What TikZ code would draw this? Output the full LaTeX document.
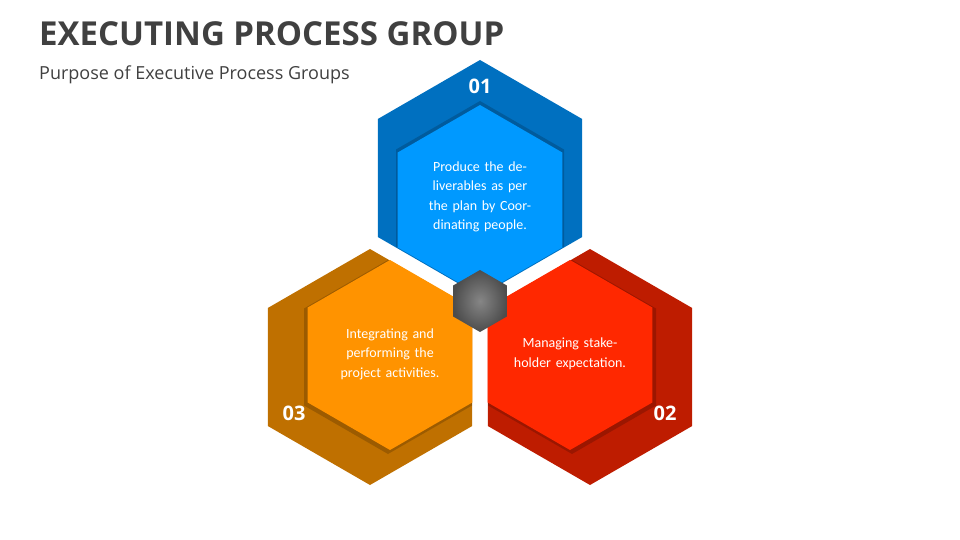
\documentclass[tikz,border=0pt]{standalone}
\usepackage{fontspec}
\setmainfont{Carlito}
\newfontfamily\titlefont{Open Sans}
\usetikzlibrary{shapes.geometric}
\definecolor{bO}{HTML}{0070C0}\definecolor{bI}{HTML}{0099FF}
\definecolor{oO}{HTML}{BF7000}\definecolor{oI}{HTML}{FF9300}
\definecolor{rO}{HTML}{BE1C00}\definecolor{rI}{HTML}{FF2800}
\definecolor{tx}{HTML}{404040}
\tikzset{
 hexo/.style={regular polygon,regular polygon sides=6,shape border rotate=30,inner sep=0,minimum size=236pt,draw=none,fill=#1},
 hexi/.style={regular polygon,regular polygon sides=6,shape border rotate=30,inner sep=0,minimum size=190pt,draw=none,fill=#1},
 hexs/.style={regular polygon,regular polygon sides=6,shape border rotate=30,inner sep=0,minimum size=194pt,draw=none,fill=black,opacity=0.18},
 body/.style={text=white,align=center,font=\fontsize{14}{19.5}\selectfont,text width=130pt},
 num/.style={text=white,font=\titlefont\bfseries\fontsize{20}{24}\selectfont}
}
\begin{document}
\begin{tikzpicture}[x=1pt,y=-1pt]
\useasboundingbox (0,0) rectangle (960,540);
\node[anchor=base west,text=tx,font=\titlefont\bfseries\fontsize{33}{36}\selectfont,inner sep=0] (title) at (39,46) {EXECUTING PROCESS GROUP};
\node[anchor=base west,text=tx,font=\titlefont\fontsize{18}{22}\selectfont,inner sep=0] (sub) at (39,80) {Purpose of Executive Process Groups};
% blue
\node[hexo=bO] (bo) at (480,178) {};
\node[hexs] (bs) at (480,198) {};
\node[hexi=bI] (bi) at (480,200) {};
\node[body] (bt) at (480,197) {Produce the deliverables as per the plan by Coordinating people.};
\node[num] (bn) at (480,86) {01};
% orange
\node[hexo=oO] (oo) at (370,367) {};
\node[hexs] (os) at (388,357) {};
\node[hexi=oI] (oi) at (390,355) {};
\node[body] (ot) at (390,354) {Integrating and performing the project activities.};
\node[num] (on) at (294,413) {03};
% red
\node[hexo=rO] (ro) at (590,367) {};
\node[hexs] (rs) at (572,357) {};
\node[hexi=rI] (ri) at (570,355) {};
\node[body] (rt) at (570,354) {Managing stakeholder expectation.};
\node[num] (rn) at (665,413) {02};
% center
\node[regular polygon,regular polygon sides=6,shape border rotate=30,inner sep=0,minimum size=62pt,draw=none,inner color=gray!95,outer color=black!70] (c) at (480,301) {};
\end{tikzpicture}
\end{document}
